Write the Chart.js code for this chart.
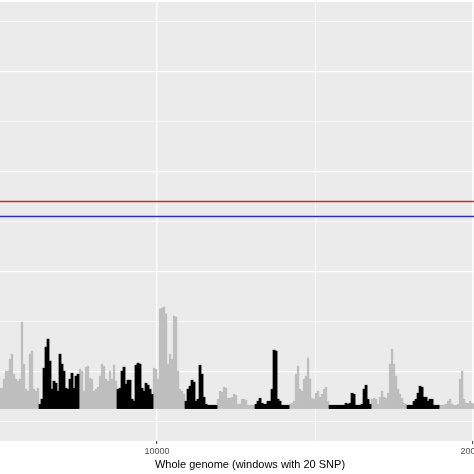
<!DOCTYPE html>
<html>
<head>
<meta charset="utf-8">
<script src="https://cdn.jsdelivr.net/npm/chart.js@4.4.1/dist/chart.umd.min.js"></script>
<style>
  html, body { margin: 0; padding: 0; background: #fff; overflow: hidden; }
  #wrap { position: absolute; left: -20px; top: 0; width: 540px; height: 474px; }
</style>
</head>
<body>
<div id="wrap"><canvas id="genome"></canvas></div>
<script>
// peak value per bin of ~63 windows, one array per chromosome (left to right),
// colours alternate grey / black
const c1 = [0.34, 0.34, 0.43, 0.51, 0.51, 0.63, 0.68, 0.48, 0.43, 0.41, 0.43, 1.00, 0.58, 0.33, 0.31, 0.68, 0.71, 0.33, 0.31, 0.34];
const c2 = [0.18, 0.23, 0.54, 0.75, 0.83, 0.61, 0.33, 0.41, 0.39, 0.31, 0.68, 0.58, 0.51, 0.34, 0.33, 0.43, 0.49, 0.34, 0.46, 0.48];
const c3 = [0.53, 0.51, 0.31, 0.55, 0.56, 0.44, 0.43, 0.31, 0.33, 0.35, 0.46, 0.58, 0.56, 0.43, 0.41, 0.51, 0.43, 0.57, 0.41];
const c4 = [0.33, 0.34, 0.51, 0.55, 0.38, 0.42, 0.42, 0.23, 0.21, 0.57, 0.59, 0.58, 0.34, 0.31, 0.39, 0.37, 0.33, 0.28];
const c5 = [0.54, 0.53, 0.43, 1.13, 1.14, 1.15, 1.08, 0.58, 0.68, 0.63, 1.06, 1.05, 0.51, 0.33, 0.31, 0.28];
const c6 = [0.21, 0.33, 0.36, 0.42, 0.40, 0.21, 0.23, 0.57, 0.48, 0.25, 0.18, 0.17, 0.17, 0.17, 0.17, 0.17];
const c7 = [0.23, 0.31, 0.30, 0.35, 0.34, 0.24, 0.24, 0.25, 0.28, 0.27, 0.18, 0.18, 0.23, 0.23, 0.22, 0.17, 0.17, 0.17, 0.17];
const c8 = [0.18, 0.21, 0.24, 0.19, 0.18, 0.18, 0.21, 0.21, 0.33, 0.72, 0.71, 0.23, 0.21, 0.17, 0.17, 0.17, 0.17];
const c9 = [0.18, 0.19, 0.21, 0.48, 0.56, 0.33, 0.31, 0.43, 0.46, 0.64, 0.43, 0.24, 0.23, 0.29, 0.31, 0.25, 0.28, 0.33, 0.35, 0.21];
const c10 = [0.17, 0.17, 0.17, 0.17, 0.17, 0.17, 0.17, 0.17, 0.19, 0.18, 0.19, 0.29, 0.28, 0.17, 0.17, 0.17, 0.18, 0.33, 0.37, 0.23, 0.18];
const c11 = [0.23, 0.24, 0.23, 0.18, 0.25, 0.31, 0.25, 0.24, 0.29, 0.58, 0.73, 0.58, 0.46, 0.33, 0.28, 0.24, 0.19, 0.18];
const c12 = [0.17, 0.17, 0.17, 0.21, 0.23, 0.29, 0.36, 0.35, 0.25, 0.25, 0.21, 0.23, 0.23, 0.17, 0.17, 0.17];
const c13 = [0.17, 0.17, 0.17, 0.18, 0.21, 0.23, 0.18, 0.17, 0.17, 0.18, 0.43, 0.51, 0.23, 0.19, 0.19, 0.21, 0.19, 0.18];
const chromosomes = [c1, c2, c3, c4, c5, c6, c7, c8, c9, c10, c11, c12, c13];

const firstWindow = 5032;
const binSize = 63.3;
const yFloor = 0.13;
const thresholds = [2.2, 2.05]; // red, blue

const xBreaks = [5000, 10000, 15000, 20000];
const xMajor = [10000, 20000];
const yBreaks = [0, 0.5, 1, 1.5, 2, 2.5, 3, 3.5, 4];
const yMajor = [0.5, 1.5, 2.5, 3.5];
const xTitle = "Whole genome (windows with 20 SNP)";

function buildBars() {
  const grey = [];
  const black = [];
  let i = 0;
  chromosomes.forEach((chr, k) => {
    chr.forEach((v) => {
      const point = { x: firstWindow + i * binSize, y: v };
      if (k % 2 === 0) grey.push(point);
      else black.push(point);
      i++;
    });
  });
  return { grey, black };
}

function hline(value, colour) {
  return {
    type: "line",
    data: [{ x: 0, y: value }, { x: 30000, y: value }],
    borderColor: colour,
    borderWidth: 1.6,
    pointRadius: 0,
    order: 0,
  };
}

const panelBg = {
  id: "panelBg",
  beforeDraw(chart) {
    const { ctx, chartArea } = chart;
    ctx.save();
    ctx.fillStyle = "#EBEBEB";
    ctx.fillRect(chartArea.left, chartArea.top, chartArea.right - chartArea.left, chartArea.bottom - chartArea.top);
    ctx.restore();
  },
};

const bars = buildBars();
const barStyle = { grouped: false, base: yFloor, categoryPercentage: 1, borderWidth: 0 };

new Chart(document.getElementById("genome").getContext("2d"), {
  type: "bar",
  data: {
    datasets: [
      Object.assign({ data: bars.grey, backgroundColor: "#BEBEBE", barPercentage: 1.15, order: 2 }, barStyle),
      Object.assign({ data: bars.black, backgroundColor: "#000000", barPercentage: 1.4, order: 1 }, barStyle),
      hline(thresholds[0], "#C8302E"),
      hline(thresholds[1], "#3232A8"),
    ],
  },
  options: {
    responsive: true,
    maintainAspectRatio: false,
    animation: false,
    layout: { padding: { top: 2, bottom: 0, left: 0, right: 0 } },
    plugins: { legend: { display: false }, tooltip: { enabled: false } },
    scales: {
      x: {
        type: "linear",
        min: 4399,
        max: 21487,
        offset: false,
        border: { display: false },
        grid: {
          offset: false,
          color: "#FFFFFF",
          lineWidth: (c) => (xMajor.includes(c.tick && c.tick.value) ? 1.3 : 0.7),
          tickColor: (c) => (xMajor.includes(c.tick && c.tick.value) ? "#333333" : "rgba(0,0,0,0)"),
          tickLength: 3,
          tickWidth: 1,
        },
        afterBuildTicks: (scale) => {
          scale.ticks = xBreaks.map((v) => ({ value: v }));
        },
        ticks: {
          autoSkip: false,
          maxRotation: 0,
          padding: 2,
          color: "#4D4D4D",
          font: { family: "Liberation Sans", size: 9 },
          callback: (v) => (xMajor.includes(v) ? String(v) : ""),
        },
        title: {
          display: true,
          text: xTitle,
          color: "#000000",
          padding: { top: 0, bottom: 2 },
          font: { family: "Liberation Sans", size: 11 },
        },
      },
      y: {
        min: -0.19,
        max: 4.19,
        border: { display: false },
        grid: {
          color: "#FFFFFF",
          lineWidth: (c) => (yMajor.includes(c.tick && c.tick.value) ? 1.3 : 0.7),
          drawTicks: false,
        },
        afterBuildTicks: (scale) => {
          scale.ticks = yBreaks.map((v) => ({ value: v }));
        },
        ticks: { display: false },
      },
    },
  },
  plugins: [panelBg],
});
</script>
</body>
</html>
